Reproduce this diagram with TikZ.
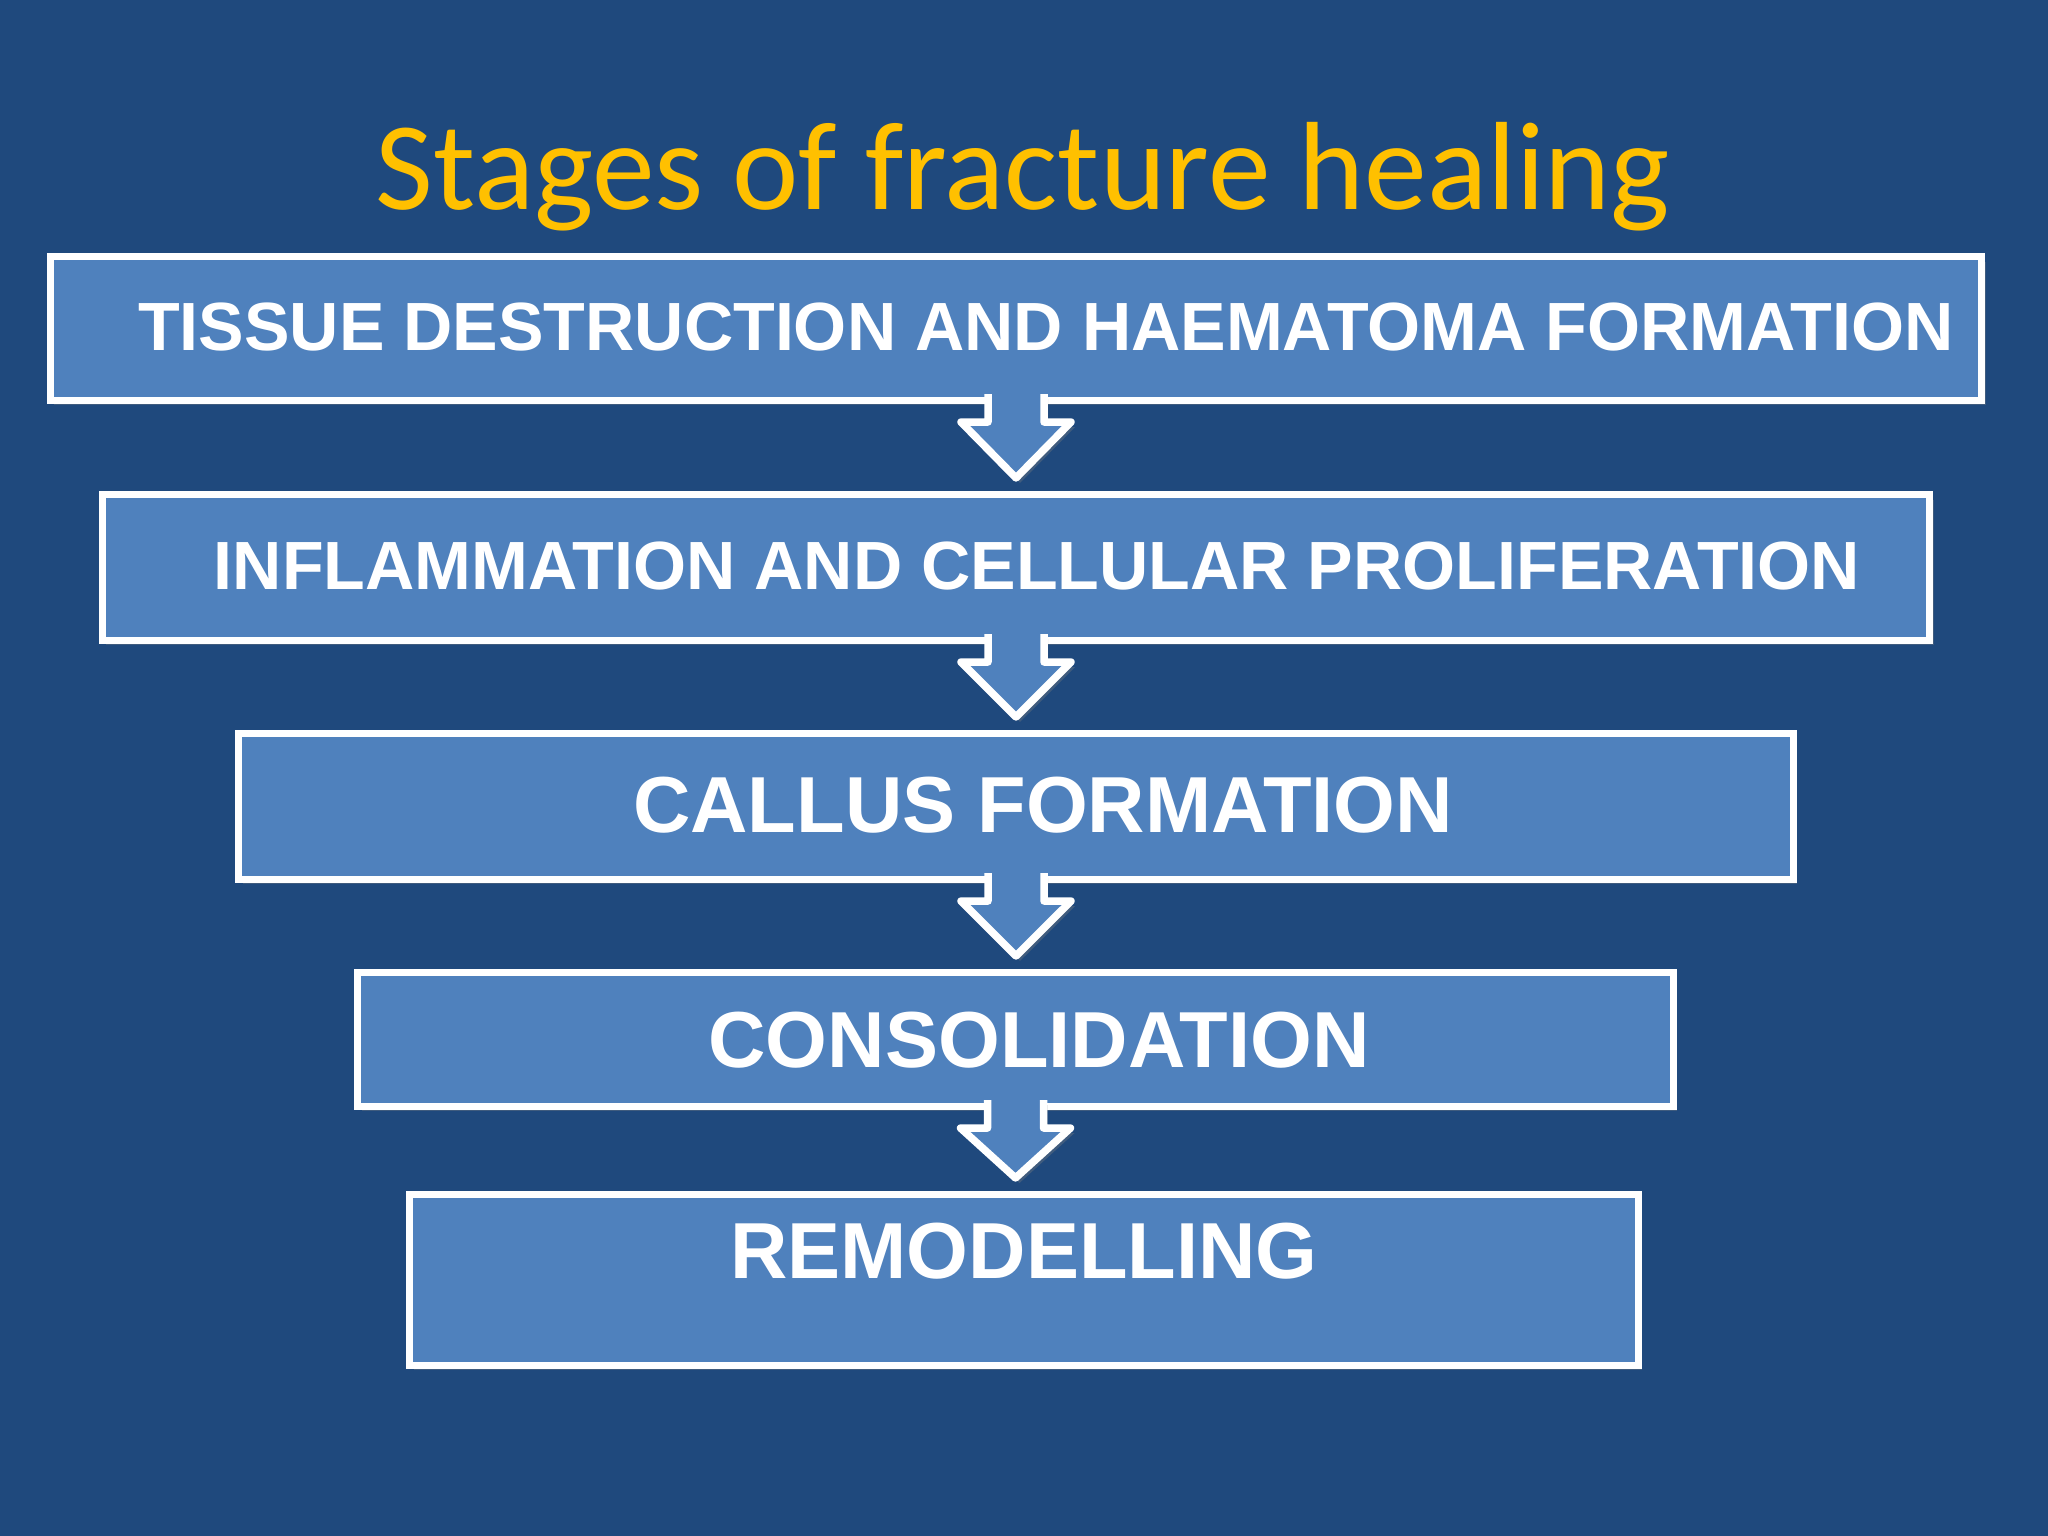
\documentclass[tikz,border=0pt]{standalone}
\usepackage{fontspec}
\setmainfont{Liberation Sans}
\newfontfamily\titlefont{Carlito}
\usetikzlibrary{calc,shadows}
\definecolor{slidebg}{RGB}{31,73,125}
\definecolor{stagefill}{RGB}{79,129,189}
\definecolor{titlegold}{RGB}{255,192,0}
\newcommand{\stagearrow}[2]{%
  \draw[arrowshape] ($(#1.south)+(-28,-6)$) -- ++(0,28) -- ++(-27,0)
    -- ($(#1.south|-#2.north)+(0,-17)$) -- ($(#1.south)+(55,22)$) -- ++(-27,0) -- ++(0,-28);}
\begin{document}
\begin{tikzpicture}[x=0.01cm,y=-0.01cm,
  stagebox/.style={draw=white,line width=0.07cm,fill=stagefill,outer sep=0pt,inner sep=0pt,
    drop shadow={shadow xshift=0.04cm,shadow yshift=-0.05cm,opacity=0.35}},
  arrowshape/.style={draw=white,line width=0.075cm,fill=stagefill,line join=round,
    drop shadow={shadow xshift=0.04cm,shadow yshift=-0.05cm,opacity=0.35}},
  stagetext/.style={text=white,font=\bfseries\fontsize{19.4}{23}\selectfont,inner sep=0pt},
  bigtext/.style={stagetext,font=\bfseries\fontsize{22.6}{27}\selectfont}]
\fill[slidebg] (0,0) rectangle (2048,1536);
\node[titlegold,font=\titlefont\fontsize{35.7}{40}\selectfont,anchor=base,inner sep=0pt] (title) at (1023,209) {Stages of fracture healing};
\node[stagebox,minimum width=19.30cm,minimum height=1.43cm] (b1) at (1016,328.5) {};
\node[stagebox,minimum width=18.26cm,minimum height=1.45cm] (b2) at (1016,567.5) {};
\node[stagebox,minimum width=15.54cm,minimum height=1.45cm] (b3) at (1016,806.5) {};
\node[stagebox,minimum width=13.15cm,minimum height=1.33cm] (b4) at (1015.5,1039.5) {};
\node[stagebox,minimum width=12.28cm,minimum height=1.70cm] (b5) at (1024,1280) {};
\stagearrow{b1}{b2}
\stagearrow{b2}{b3}
\stagearrow{b3}{b4}
\stagearrow{b4}{b5}
\node[stagetext] (t1) at (1046,327) {TISSUE DESTRUCTION AND HAEMATOMA FORMATION};
\node[stagetext] (t2) at (1037,566) {INFLAMMATION AND CELLULAR PROLIFERATION};
\node[bigtext] (t3) at (1043,805) {CALLUS FORMATION};
\node[bigtext] (t4) at (1039,1040) {CONSOLIDATION};
\node[bigtext] (t5) at (1024,1251) {REMODELLING};
\end{tikzpicture}
\end{document}
